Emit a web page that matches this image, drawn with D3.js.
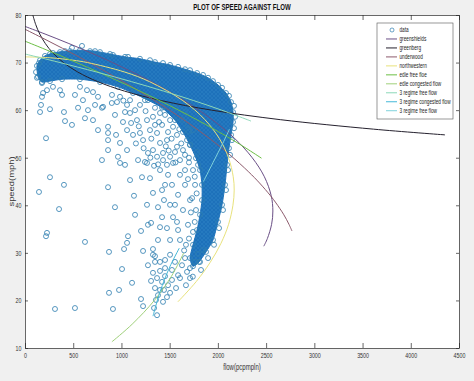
<!DOCTYPE html>
<html><head><meta charset="utf-8">
<script src="https://cdn.jsdelivr.net/npm/d3@7"></script>
<style>
html,body{margin:0;padding:0;background:#f0f0f0;}
svg{display:block;font-family:"Liberation Sans",Arial,sans-serif;}
</style>
</head><body>
<svg id="chart" width="474" height="381"></svg>
<script>
// ---------- data ----------
const flowTicks = [0,500,1000,1500,2000,2500,3000,3500,4000,4500];
const speedTicks = [10,20,30,40,50,60,70,80];
const legendLabels = ["data","greenshields","greenberg","underwood","northwestern","edie free floe","edie congested flow","3 regime free flow","3 regime congested flow","3 regime free flow"];

// outline of the solid, overlapping part of the observations [flow, speed]
const coreOutline = [[124,69.3],[156,70.5],[207,71.4],[290,72.0],[415,72.4],[570,72.6],[726,72.4],[881,71.8],[1037,71.2],[1192,70.8],[1348,70.1],[1504,69.5],[1659,68.6],[1784,67.8],[1898,66.8],[2001,65.3],[2084,63.6],[2136,61.7],[2157,59.6],[2157,57.5],[2136,54.8],[2115,52.0],[2095,48.5],[2074,44.3],[2043,40.1],[2001,36.5],[1949,32.7],[1877,30.2],[1804,28.1],[1742,27.2],[1711,28.9],[1742,31.7],[1784,34.8],[1815,38.0],[1835,41.1],[1835,44.3],[1815,47.4],[1773,49.9],[1711,52.7],[1638,55.4],[1555,57.9],[1421,60.5],[1275,62.1],[1120,63.6],[964,64.9],[778,65.9],[570,66.5],[384,66.5],[259,66.1],[176,65.9],[135,67.0]];

// individually visible observations [flow, speed]
const dataPoints = [
[176,65.7],[187,63.6],[228,64.2],[290,64.9],[363,64.2],[384,63.2],[176,62.8],[166,61.1],[156,59.6],[259,60.2],[404,59.6],[415,57.7],[218,54.1],[487,56.9],[518,63.2],[570,64.9],[643,64.2],[705,63.8],[757,62.8],[809,60.7],[705,57.9],[861,56.5],[861,55.2],[861,53.7],[798,60.5],[954,61.7],[985,62.8],[1058,61.1],[1089,59.4],[1161,57.9],[1016,57.5],[1058,55.8],[1120,54.8],[1192,55.2],[1224,53.7],[1296,55.8],[1369,55.2],[1265,57.9],[1327,58.6],[1400,59.4],[1431,60.7],[1504,57.9],[1535,56.5],[1576,54.8],[1576,52.3],[1638,51.6],[1680,53.7],[1742,55.8],[1607,49.5],[1504,50.2],[1431,49.5],[1327,51.6],[1400,53.1],[1472,53.7],[985,48.9],[1058,51.6],[1172,49.5],[1244,49.1],[1369,50.2],[861,51.6],[798,49.5],[1192,61.1],[1244,62.1],[1348,60.5],[1452,59.0],[1555,60.5],[1659,59.6],[1690,56.9],[1141,60.0],[1037,59.6],[933,59.0],[902,63.2],[1089,62.1],[1483,55.4],[1421,56.9],[1348,56.9],[1711,52.7],[1784,51.2],[1659,50.6],[1555,51.2],[601,62.1],[653,60.0],[726,61.1],[550,60.5],[622,58.3],[944,54.8],[985,53.1],[757,55.8],
[1180,56.6],[1250,59.8],[1310,54.0],[1390,57.5],[1460,52.4],[1520,54.0],[1600,56.0],[1620,53.0],[1700,50.0],[1560,49.0],[1490,51.5],[1380,48.6],[1300,50.0],[1230,52.0],[1150,53.0],[1100,57.3],[1020,62.0],[900,61.5],[1630,58.0],[1700,55.5],
[964,50.2],[1037,48.5],[1130,42.0],[933,39.6],[1213,45.9],[1296,45.7],[1265,48.9],[1338,48.3],[1400,47.4],[1472,48.5],[1535,48.9],[1431,51.0],[1275,51.0],[1327,42.6],[1421,43.2],[1441,41.1],[1379,39.6],[1265,40.1],[1275,35.9],[1307,36.3],[1203,34.6],[1068,33.5],[1058,32.1],[1027,30.8],[871,30.2],[622,32.3],[1224,30.4],[1327,30.8],[1348,29.3],[1400,35.4],[1421,37.5],[1472,35.2],[1535,37.5],[1504,32.7],[1576,36.5],[1587,34.8],[1794,29.8],[861,43.8],[404,44.3],[1607,46.4],[1659,44.3],[1711,41.1],[1638,39.0],[1690,35.9],[1607,32.7],[1659,47.4],[1587,42.2],[1524,44.3],[1483,46.4],[1555,40.1],[1742,47.4],[1763,44.3],[1504,40.1],[1452,44.3],[1773,39.0],[1742,34.4],[1669,31.7],[1732,41.5],[1794,48.5],[1089,45.3],[1141,38.0],[1379,32.7],
[1327,25.8],[1400,26.2],[1369,24.7],[1421,23.9],[1452,25.1],[1483,23.2],[1307,24.1],[1348,22.6],[1400,22.2],[1504,21.6],[1472,20.7],[1431,19.7],[1452,26.8],[1524,26.4],[1587,25.3],[1607,24.7],[1555,28.1],[1628,27.4],[1659,28.9],[1711,26.8],[1763,28.1],[1504,29.6],[1452,28.5],[1400,28.1],[1379,21.1],[1358,20.1],[1338,18.4],[1369,16.9],[1441,22.2],[1524,24.3],[1566,22.6],[1669,23.2],[1711,24.7],[1327,29.6],[1275,27.4],[1006,26.6],[1110,23.7],[871,21.6],[975,22.2],[1203,20.3],[1224,18.8],[1348,28.1],[1815,28.1],[1846,30.6],
[1680,26.0],[1740,25.0],[1650,30.5],[1700,33.0],[1760,36.5],[1720,38.5],[1780,42.5],[1760,46.0],[1690,45.5],[1700,49.0],
[259,45.9],[145,42.8],[353,39.2],[228,34.2],[218,33.5],[311,18.2],[518,18.4],[912,18.2],
[487,73.1],[591,73.5],
[259,71.8],[363,72.2],[467,72.4],[674,72.4],[778,72.2],[912,71.6],[1068,71.2],[1296,70.5],[1431,69.9],[1587,69.1],[1711,68.4],[1846,67.4],[1949,66.1],[2043,64.7],[2115,63.0],[2167,60.9],[2178,58.6],[2167,56.2],[2146,53.7],[2126,50.6],[2105,47.4],[2084,43.2],[2053,39.0],[2012,35.2],[1960,31.7],[1898,28.9],[1825,26.4],
[114,68.0],[124,66.8],[145,69.9]
];

// fitted model curves [flow, speed]
const greenshields = [[0,77.6],[208,76],[455,74],[688,72],[908,70],[1307,66],[1651,62],[1941,58],[2176,54],[2356,50],[2482,46],[2553,42],[2570,38.8],[2557,36],[2513,33],[2476,31.4]];
const greenberg = [[81,80],[111,78],[153,76],[211,74],[290,72],[399,70],[548,68],[753,66],[1032,64],[1415,62],[1935,60],[2647,58],[3615,56],[4355,54.8]];
const underwood = [[0,77],[197,75],[389,73],[576,71],[845,68],[1101,65],[1344,62],[1644,58],[1916,54],[2125,50.6],[2320,47],[2431,44.7],[2546,42],[2602,40.5],[2684,38],[2737,36],[2768,34.6]];
const northwestern = [[0,71.2],[267,71],[497,70.5],[648,70],[1035,68],[1290,66],[1637,62],[1865,58],[2016,54],[2110,50],[2159,46],[2169,43.2],[2156,40],[2111,36],[2032,32],[1920,28],[1777,24],[1585,19.7]];
const edieFree = [[0,74.5],[182,73],[419,71],[649,69],[872,67],[1087,65],[1295,63],[1496,61],[1688,59],[1871,57],[2046,55],[2156,53.7],[2292,52],[2452,49.9]];
const edieCongested = [[901,11.3],[1111,15],[1341,20],[1516,25],[1646,30]];
const threeFree = [[0,71.8],[164,71],[363,70],[744,68],[1103,66],[1438,64],[1750,62],[2039,60],[2305,58],[2343,57.7]];
const threeCongested = [[1327,16.7],[1400,21.8],[1500,27],[1600,31]];
const threeMiddle = [[1850,45],[1950,49],[2050,53],[2120,56]];

// ---------- drawing ----------
const svg = d3.select("#chart");
const W = 474, H = 381;
const L = 25, R = 459, T = 15, B = 348;
const x = d3.scaleLinear().domain([0,4500]).range([L,R]);
const y = d3.scaleLinear().domain([10,80]).range([B,T]);

svg.append("rect").attr("width",W).attr("height",H).attr("fill","#f0f0f0");
svg.append("rect").attr("x",L).attr("y",T).attr("width",R-L).attr("height",B-T).attr("fill","#ffffff");

const defs = svg.append("defs");
defs.append("clipPath").attr("id","plotclip")
  .append("rect").attr("x",L).attr("y",T).attr("width",R-L).attr("height",B-T);
// ring texture of overlapping markers inside the dense core
const pat = defs.append("pattern").attr("id","rings").attr("patternUnits","userSpaceOnUse")
  .attr("width",4).attr("height",4);
pat.append("rect").attr("width",4).attr("height",4).attr("fill","#1b6fb9");
pat.append("circle").attr("cx",2).attr("cy",2).attr("r",1.6)
  .attr("fill","none").attr("stroke","#2f84c6").attr("stroke-width",0.5);

const plot = svg.append("g").attr("clip-path","url(#plotclip)");

const dataColor = "#2d7db0";
// dense core
plot.append("path")
  .attr("d", d3.line().x(d=>x(d[0])).y(d=>y(d[1])).curve(d3.curveCardinalClosed.tension(0.3))(coreOutline))
  .attr("fill","url(#rings)").attr("stroke","#1d72bb").attr("stroke-width",1);

plot.append("g").selectAll("circle")
  .data(coreOutline.concat(dataPoints))
  .join("circle")
  .attr("cx",d=>x(d[0])).attr("cy",d=>y(d[1])).attr("r",2.5)
  .attr("fill","none").attr("stroke",dataColor).attr("stroke-width",0.8);

const series = [
  {data: greenshields, color:"#6a4f86"},
  {data: greenberg, color:"#25212e"},
  {data: underwood, color:"#8c5a6c"},
  {data: northwestern, color:"#e8e27c"},
  {data: edieFree, color:"#6cbf45"},
  {data: edieCongested, color:"#9fd07a"},
  {data: threeFree, color:"#8cd8b8"},
  {data: threeCongested, color:"#45b8d8"},
  {data: threeMiddle, color:"#7fd2dc"}
];
const line = d3.line().x(d=>x(d[0])).y(d=>y(d[1])).curve(d3.curveCatmullRom);
plot.append("g").selectAll("path").data(series).join("path")
  .attr("d", s=>line(s.data))
  .attr("fill","none").attr("stroke", s=>s.color).attr("stroke-width",1);

// axes
const axColor = "#262626";
const squeeze = 0.72;
const fmt = d3.format("d");
const gx = svg.append("g").attr("transform",`translate(0,${B})`)
  .call(d3.axisBottom(x).tickValues(flowTicks).tickFormat(fmt).tickSize(-5).tickSizeOuter(0).tickPadding(5));
gx.selectAll("text").attr("transform",`scale(${squeeze},1)`).style("font-size","7.4px").attr("fill","#333");
const gy = svg.append("g").attr("transform",`translate(${L},0)`)
  .call(d3.axisLeft(y).tickValues(speedTicks).tickFormat(fmt).tickSize(-3).tickSizeOuter(0).tickPadding(5));
gy.selectAll("text").attr("transform",`scale(${squeeze},1)`).style("font-size","7.4px").attr("fill","#333");
const gt = svg.append("g").attr("transform",`translate(0,${T})`)
  .call(d3.axisTop(x).tickValues(flowTicks).tickSize(-5).tickSizeOuter(0).tickFormat(""));
const gr = svg.append("g").attr("transform",`translate(${R},0)`)
  .call(d3.axisRight(y).tickValues(speedTicks).tickSize(-3).tickSizeOuter(0).tickFormat(""));
[gx,gy,gt,gr].forEach(g=>{
  g.selectAll("path,line").attr("stroke",axColor).attr("stroke-width",0.7);
});

// axis titles
svg.append("text").attr("transform",`translate(${(L+R)/2},370) scale(${squeeze},1)`)
  .attr("text-anchor","middle").style("font-size","8.4px").attr("fill","#333").text("flow(pcpmpln)");
svg.append("text").attr("transform",`translate(14,${(T+B)/2}) scale(${squeeze},1) rotate(-90)`)
  .attr("text-anchor","middle").style("font-size","9.4px").attr("fill","#333").text("speed(mph)");
svg.append("text").attr("transform",`translate(242,9.5) scale(0.68,1)`)
  .attr("text-anchor","middle").style("font-size","9px").style("font-weight","bold").attr("fill","#111")
  .text("PLOT OF SPEED AGAINST FLOW");

// legend
const lg = svg.append("g");
lg.append("rect").attr("x",377).attr("y",23).attr("width",76).attr("height",96)
  .attr("fill","#ffffff").attr("stroke","#555").attr("stroke-width",0.6);
const legendColors = ["data"].concat(series.map(s=>s.color));
legendLabels.forEach((lab,i)=>{
  const yy = 30 + i*8.97;
  if(i===0){
    lg.append("circle").attr("cx",392).attr("cy",yy).attr("r",2)
      .attr("fill","none").attr("stroke",dataColor).attr("stroke-width",0.7);
  } else {
    lg.append("line").attr("x1",386).attr("x2",397).attr("y1",yy).attr("y2",yy)
      .attr("stroke",legendColors[i]).attr("stroke-width",1);
  }
  lg.append("text").attr("transform",`translate(399.5,${yy+2}) scale(0.74,1)`)
    .style("font-size","6.4px").attr("fill","#222").text(lab);
});
</script>
</body></html>
